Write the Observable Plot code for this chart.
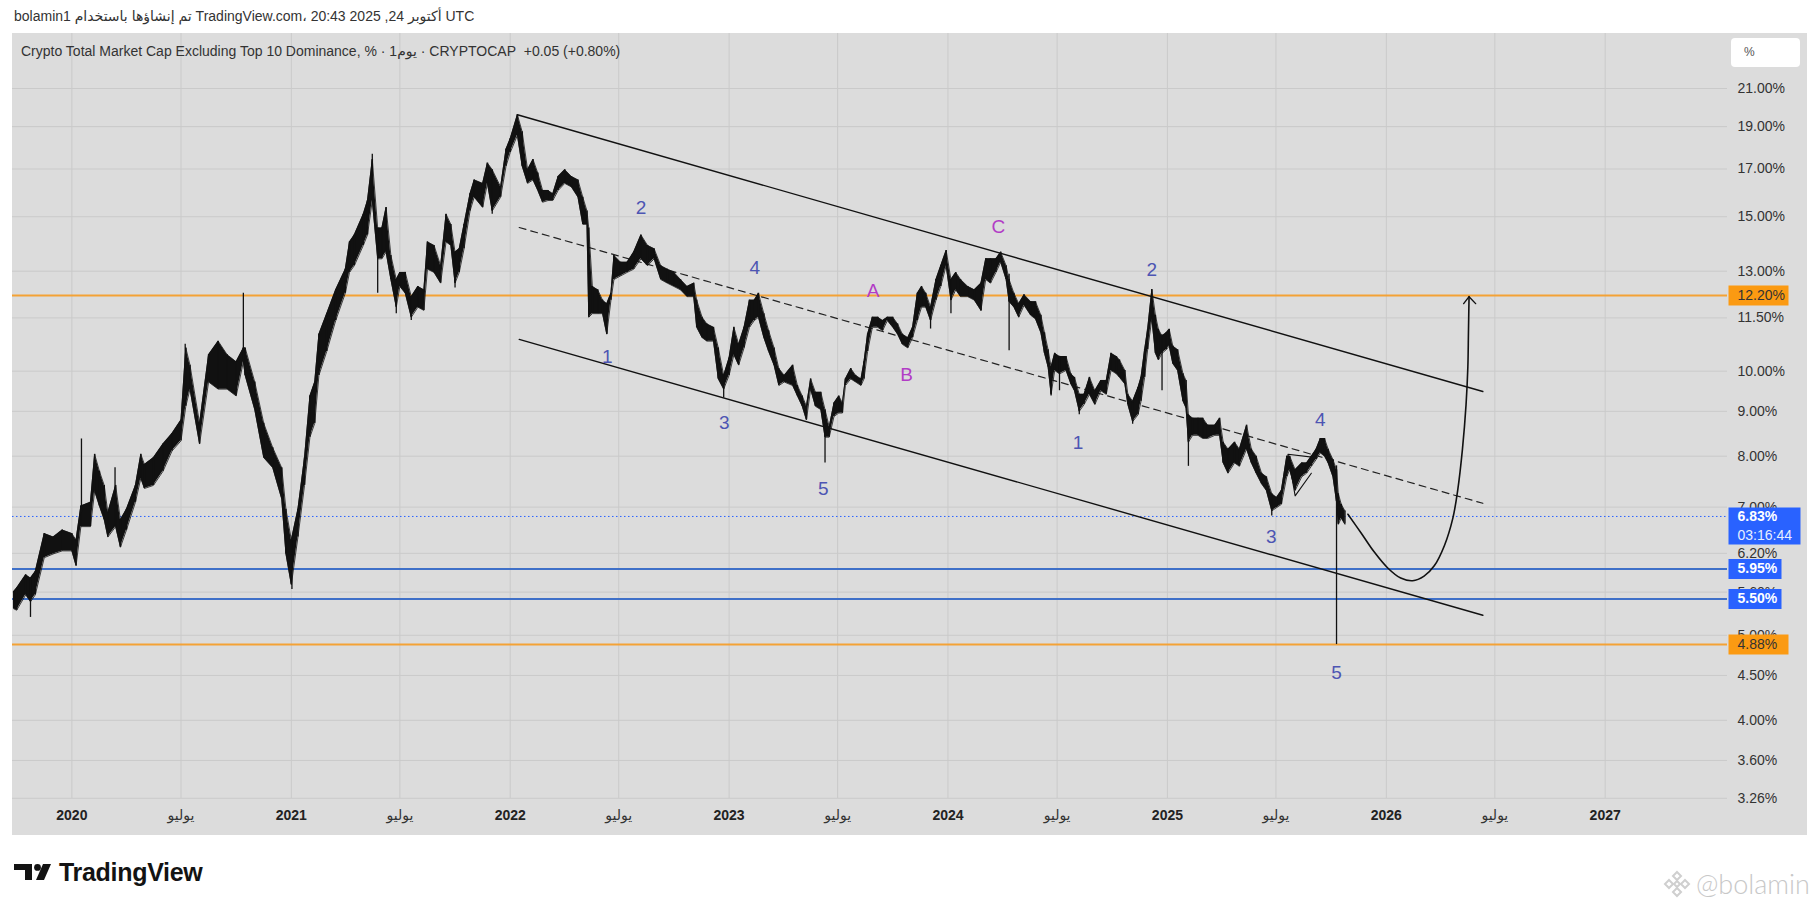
<!DOCTYPE html>
<html>
<head>
<meta charset="utf-8">
<script src="https://cdn.jsdelivr.net/npm/d3@7"></script>
<script src="https://cdn.jsdelivr.net/npm/@observablehq/plot@0.6"></script>
<style>
  html, body { margin: 0; padding: 0; background: #ffffff; }
  body { width: 1818px; height: 908px; overflow: hidden; position: relative;
         font-family: "Liberation Sans", "DejaVu Sans", sans-serif; }
  #hdr { position: absolute; left: 14px; top: 8px; font-size: 14px; color: #333; white-space: nowrap; }
  #panel { position: absolute; left: 12px; top: 33px; width: 1795px; height: 802px; background: #dcdcdc; }
  #legend { position: absolute; left: 9px; top: 10px; font-size: 14px; color: #333; white-space: nowrap; }
  #pct { position: absolute; left: 1719px; top: 5px; width: 69px; height: 29px; background: #fff;
         border-radius: 4px; font-size: 12px; color: #555; line-height: 29px; text-indent: 13px; }
  #logo { position: absolute; left: 14px; top: 857px; height: 30px; display: flex; align-items: center; }
  #logo span { font-size: 25px; font-weight: bold; color: #131313; margin-left: 8px; letter-spacing: -0.3px; }
  #wm { position: absolute; left: 1662px; top: 867px; display: flex; align-items: center; color: #c8c8c8; }
  #wm span { font-family: "Lato", "Open Sans", sans-serif; font-weight: 300; font-size: 27px; margin-left: 4px; }
</style>
</head>
<body>
<div id="hdr">bolamin1 تم إنشاؤها باستخدام TradingView.com، أكتوبر 24, 2025 20:43 UTC</div>
<div id="panel">
  <div id="chart"></div>
  <div id="legend">Crypto Total Market Cap Excluding Top 10 Dominance, % · 1يوم · CRYPTOCAP&nbsp;&nbsp;+0.05 (+0.80%)</div>
  <div id="pct">%</div>
</div>
<div id="logo">
  <svg width="37" height="16" viewBox="0 0 37 16">
    <path d="M0 0 H18 V16 H11 V6 H0 Z" fill="#131313"/>
    <circle cx="23.5" cy="3.4" r="3.4" fill="#131313"/>
    <path d="M29 0 H37 L30 16 H22 Z" fill="#131313"/>
  </svg>
  <span>TradingView</span>
</div>
<div id="wm">
  <svg width="30" height="30" viewBox="0 0 30 30">
    <g fill="none" stroke="#cfcfcf" stroke-width="2">
      <path d="M15 3 L19 7 L15 11 L11 7 Z"/>
      <path d="M7 11 L11 15 L7 19 L3 15 Z"/>
      <path d="M23 11 L27 15 L23 19 L19 15 Z"/>
      <path d="M15 19 L19 23 L15 27 L11 23 Z"/>
      <path d="M15 12 L18 15 L15 18 L12 15 Z"/>
    </g>
  </svg>
  <span>@bolamin</span>
</div>
<script>
// ---------- price path (high / low band) ----------
const barDates = [
"2019-09-26","2019-10-01","2019-10-16","2019-10-24","2019-11-01","2019-11-16","2019-12-01","2019-12-16",
"2020-01-01","2020-01-08","2020-01-16","2020-02-01","2020-02-08","2020-02-16","2020-02-24","2020-03-01",
"2020-03-14","2020-03-22","2020-04-01","2020-04-16","2020-04-25","2020-05-01","2020-05-16","2020-06-01",
"2020-06-16","2020-07-01","2020-07-09","2020-07-16","2020-08-01","2020-08-16","2020-09-01","2020-09-16",
"2020-10-01","2020-10-13","2020-10-16","2020-11-01","2020-11-16","2020-12-01","2020-12-16","2020-12-23",
"2021-01-01","2021-01-12","2021-01-23","2021-02-01","2021-02-09","2021-02-16","2021-03-01","2021-03-16",
"2021-04-01","2021-04-08","2021-04-16","2021-05-01","2021-05-08","2021-05-16","2021-05-25","2021-06-01",
"2021-06-08","2021-06-16","2021-06-25","2021-07-01","2021-07-10","2021-07-20","2021-07-31","2021-08-10",
"2021-08-16","2021-08-27","2021-09-07","2021-09-16","2021-09-24","2021-10-01","2021-10-08","2021-10-16",
"2021-10-26","2021-11-02","2021-11-16","2021-11-24","2021-12-02","2021-12-16","2021-12-25","2022-01-01",
"2022-01-13","2022-01-21","2022-01-30","2022-02-08","2022-02-16","2022-02-24","2022-03-05","2022-03-13",
"2022-03-22","2022-04-02","2022-04-13","2022-04-24","2022-05-02","2022-05-09","2022-05-12","2022-05-18",
"2022-05-27","2022-06-04","2022-06-11","2022-06-18","2022-06-23","2022-07-04","2022-07-15","2022-07-26",
"2022-08-07","2022-08-18","2022-08-29","2022-09-09","2022-09-20","2022-10-01","2022-10-12","2022-10-23",
"2022-11-03","2022-11-08","2022-11-17","2022-11-25","2022-12-06","2022-12-14","2022-12-23","2023-01-01",
"2023-01-09","2023-01-17","2023-01-26","2023-02-04","2023-02-12","2023-02-19","2023-02-28","2023-03-08",
"2023-03-17","2023-03-25","2023-04-03","2023-04-17","2023-04-25","2023-05-03","2023-05-10","2023-05-17",
"2023-05-25","2023-06-03","2023-06-10","2023-06-17","2023-06-25","2023-07-03","2023-07-09","2023-07-14",
"2023-07-23","2023-07-31","2023-08-09","2023-08-14","2023-08-20","2023-08-28","2023-09-06","2023-09-14",
"2023-09-22","2023-10-01","2023-10-09","2023-10-17","2023-10-26","2023-11-03","2023-11-11","2023-11-18",
"2023-11-25","2023-12-03","2023-12-12","2023-12-20","2023-12-29","2024-01-06","2024-01-14","2024-01-22",
"2024-02-03","2024-02-14","2024-02-25","2024-03-04","2024-03-12","2024-03-21","2024-03-29","2024-04-07",
"2024-04-12","2024-04-20","2024-04-28","2024-05-07","2024-05-18","2024-05-26","2024-06-04","2024-06-10",
"2024-06-16","2024-06-21","2024-06-27","2024-07-05","2024-07-16","2024-07-24","2024-07-30","2024-08-07",
"2024-08-15","2024-08-24","2024-09-02","2024-09-12","2024-09-21","2024-09-29","2024-10-08","2024-10-13",
"2024-10-22","2024-10-27","2024-11-04","2024-11-13","2024-11-18","2024-11-24","2024-11-29","2024-12-06",
"2024-12-12","2024-12-17","2024-12-23","2024-12-30","2025-01-04","2025-01-10","2025-01-18","2025-01-27",
"2025-02-01","2025-02-05","2025-02-12","2025-02-21","2025-03-01","2025-03-09","2025-03-21","2025-03-29",
"2025-04-04","2025-04-12","2025-04-23","2025-05-01","2025-05-13","2025-05-21","2025-05-29","2025-06-07",
"2025-06-15","2025-06-24","2025-07-02","2025-07-10","2025-07-19","2025-07-24","2025-08-02","2025-08-13",
"2025-08-21","2025-08-29","2025-09-06","2025-09-13","2025-09-20","2025-09-26","2025-10-04","2025-10-10",
"2025-10-13","2025-10-18","2025-10-24"
];
const barHighs = [
5.61,5.66,5.86,5.81,5.91,6.53,6.47,6.59,
6.53,6.42,7.02,7.09,8.04,7.69,7.41,6.90,
7.41,6.77,6.96,7.41,8.04,7.83,7.97,8.26,
8.49,8.80,10.63,10.16,8.72,10.44,10.82,10.44,
10.25,10.63,10.63,9.72,8.72,8.18,7.76,6.96,
6.42,6.96,7.97,9.37,9.72,11.02,11.63,12.38,
13.07,14.04,14.30,15.10,15.65,17.43,14.56,14.56,
15.37,13.55,12.72,12.96,12.96,12.16,12.49,12.38,
14.04,13.91,13.19,15.10,14.70,13.67,13.79,14.70,
15.93,16.52,16.37,17.27,16.97,16.22,17.91,18.40,
19.60,18.74,16.97,17.43,16.82,16.07,16.07,15.93,
16.67,16.97,16.67,16.52,15.79,15.23,14.56,12.49,
12.38,12.05,11.94,12.27,13.55,13.31,13.31,13.67,
14.30,13.91,13.79,13.19,13.07,12.96,12.72,12.49,
12.60,12.05,11.52,11.32,11.22,10.63,9.89,10.35,
11.22,10.73,11.22,12.05,12.05,12.27,11.63,11.12,
10.63,10.07,9.89,10.16,9.63,9.37,9.12,9.80,
9.46,9.46,9.04,8.64,9.20,9.37,9.20,9.80,
10.07,9.89,9.80,10.25,11.02,11.52,11.52,11.42,
11.52,11.52,11.32,11.02,10.92,11.22,12.27,12.49,
12.27,11.83,12.72,13.19,13.73,12.72,12.96,12.72,
12.49,12.38,12.60,13.43,13.43,13.43,13.67,13.19,
12.72,12.27,11.94,12.22,12.00,12.00,11.58,11.06,
10.58,10.11,10.48,10.39,10.39,9.93,9.84,9.41,
9.41,9.84,9.50,9.76,9.76,10.48,10.39,10.30,
10.02,9.41,9.24,9.58,9.84,10.58,11.16,12.39,
11.58,11.16,10.97,11.06,11.16,10.68,10.58,9.93,
9.76,8.92,8.84,8.84,8.84,8.68,8.68,8.84,
8.30,8.15,8.30,8.15,8.68,8.15,8.00,7.65,
7.58,7.25,7.18,7.31,8.00,8.00,7.72,7.86,
7.86,8.00,8.15,8.38,8.38,8.15,7.93,7.72,
7.25,7.05,6.93
];
const barLows = [
5.36,5.34,5.56,5.46,5.56,6.13,6.19,6.24,
6.24,6.00,6.65,6.65,7.30,7.02,6.77,6.47,
6.65,6.30,6.59,7.09,7.55,7.35,7.41,7.69,
8.11,8.33,9.12,9.54,8.26,9.72,9.54,9.54,
9.37,10.25,9.89,9.04,7.97,7.76,7.15,6.19,
5.71,6.47,7.41,8.41,8.72,9.89,10.53,11.42,
12.27,12.96,13.19,13.91,14.30,15.65,13.43,13.43,
13.67,12.72,11.83,12.49,12.27,11.52,11.83,11.73,
13.07,12.96,12.60,14.04,13.91,12.60,12.96,13.79,
15.23,15.79,15.37,16.37,15.23,15.79,17.12,17.75,
18.57,17.12,16.37,16.52,16.07,15.58,15.65,15.65,
16.07,16.37,16.22,15.79,14.70,14.70,11.52,11.63,
11.63,11.63,11.02,12.05,12.72,12.84,12.96,13.07,
13.43,13.19,13.43,12.72,12.60,12.49,12.38,12.16,
12.16,11.22,10.92,10.82,10.82,9.80,9.54,9.89,
10.44,10.16,10.63,11.22,11.42,11.52,10.92,10.53,
10.16,9.63,9.72,9.63,9.37,9.12,8.80,9.54,
9.12,9.04,8.41,8.41,8.88,8.96,8.96,9.63,
9.80,9.72,9.63,9.80,10.53,11.22,11.22,11.12,
11.42,11.22,11.02,10.73,10.63,10.92,11.42,11.83,
11.83,11.42,12.05,12.49,13.19,12.05,12.38,12.16,
12.16,12.05,11.73,12.72,12.60,12.96,13.31,12.72,
12.00,11.83,11.52,11.89,11.58,11.47,11.06,10.48,
10.11,9.41,10.02,9.93,10.02,9.67,9.50,9.00,
9.16,9.41,9.16,9.50,9.41,10.02,9.93,9.84,
9.67,9.16,8.76,8.92,9.24,9.84,10.58,11.47,
10.48,10.30,10.48,10.58,10.68,10.20,10.02,9.24,
9.08,8.30,8.45,8.45,8.38,8.38,8.45,8.45,
7.86,7.65,7.86,7.79,8.15,7.86,7.65,7.44,
7.31,6.93,6.99,7.05,7.58,7.72,7.31,7.58,
7.65,7.79,7.93,8.07,8.00,7.86,7.58,7.10,
6.69,6.80,6.69
];

// long single-candle wicks
const wickDates = ["2019-10-24","2020-01-17","2020-03-13","2020-07-08","2020-10-13","2021-01-02","2021-05-16",
  "2021-05-25","2021-06-25","2021-07-20","2021-10-01","2021-12-02","2022-06-11","2022-12-23","2023-06-10",
  "2023-12-03","2024-01-06","2024-02-25","2024-04-12","2024-06-21","2024-07-05","2024-08-07","2024-11-04",
  "2024-12-23","2025-02-05","2025-06-24","2025-10-10"];
const wickHighs = [5.80,8.37,7.76,10.73,12.27,6.40,17.67,14.00,12.70,12.10,13.60,16.90,11.90,9.90,9.00,
  11.80,12.70,12.60,12.90,10.10,10.40,9.40,9.20,11.00,8.90,7.20,7.80];
const wickLows = [5.24,6.90,6.65,9.50,10.30,5.64,16.00,12.27,11.63,11.42,12.44,15.10,11.02,9.32,7.86,
  11.17,11.63,11.70,10.55,9.37,9.50,8.92,8.70,9.50,7.79,6.84,4.88];

// axes
const yTickValues = [21, 19, 17, 15, 13, 11.5, 10, 9, 8, 7, 6.2, 5.6, 5, 4.5, 4, 3.6, 3.26];
const yearTickDates = ["2020-01-01","2021-01-01","2022-01-01","2023-01-01","2024-01-01","2025-01-01","2026-01-01","2027-01-01"];
const yearTickLabels = ["2020","2021","2022","2023","2024","2025","2026","2027"];
const julyTickDates = ["2020-07-01","2021-07-01","2022-07-01","2023-07-01","2024-07-01","2025-07-01","2026-07-01"];
const julyLabel = "يوليو";
const xDomain = ["2019-09-24", "2027-07-24"];
const yDomain = [3.258, 24.26];

// horizontal levels
const orangeLevels = [12.2, 4.88];
const blueLevels = [5.95, 5.5];
const lastPrice = 6.83;
const lastCountdown = "03:16:44";

// channel drawn on the chart
const channelDates = ["2022-01-13", "2026-06-11"];
const channelUpper = [19.60, 9.48];
const channelMidDates = ["2022-01-16", "2026-06-11"];
const channelMid = [14.58, 7.07];
const channelLower = [10.87, 5.27];

// small wedge near wave 4
const wedgeDates = ["2025-09-06","2025-07-21","2025-08-02","2025-08-29"];
const wedgeValues = [7.97, 8.04, 7.21, 7.65];

// projected path + arrow head
const projDates = ["2025-10-29","2025-11-20","2025-12-12","2026-01-03","2026-01-25","2026-02-14","2026-03-05",
  "2026-03-22","2026-04-08","2026-04-22","2026-04-30","2026-05-08","2026-05-14","2026-05-17","2026-05-18","2026-05-19"];
const projValues = [6.87,6.54,6.22,5.97,5.81,5.77,5.84,6.00,6.33,6.80,7.31,8.15,9.16,10.11,11.07,12.16];
const arrowDates = ["2026-05-10","2026-05-19","2026-05-30"];
const arrowValues = [11.94, 12.16, 11.94];

// wave labels
const waveTexts  = ["1","2","3","4","5","A","B","C","1","2","3","4","5"];
const waveDates  = ["2022-06-12","2022-08-07","2022-12-24","2023-02-13","2023-06-07","2023-08-29","2023-10-24",
                    "2024-03-25","2024-08-05","2024-12-06","2025-06-23","2025-09-13","2025-10-10"];
const waveValues = [10.37,15.37,8.72,13.13,7.35,12.36,9.91,14.62,8.29,13.06,6.48,8.81,4.53];
const waveKinds  = ["n","n","n","n","n","l","l","l","n","n","n","n","n"];

// ---------- build tables ----------
const D = s => new Date(s + "T00:00:00Z");
const bars = barDates.map((d, i) => ({date: D(d), high: barHighs[i], low: barLows[i]}));
const wicks = wickDates.map((d, i) => ({date: D(d), high: wickHighs[i], low: wickLows[i]}));
const channel = [
  ...channelDates.map((d, i) => ({date: D(d), v: channelUpper[i], k: "u"})),
  ...channelMidDates.map((d, i) => ({date: D(d), v: channelLower[i], k: "l"}))
];
const mid = channelMidDates.map((d, i) => ({date: D(d), v: channelMid[i]}));
const wedge = wedgeDates.map((d, i) => ({date: D(d), v: wedgeValues[i]}));
const proj = projDates.map((d, i) => ({date: D(d), v: projValues[i]}));
const arrowHead = arrowDates.map((d, i) => ({date: D(d), v: arrowValues[i]}));
const waves = waveTexts.map((t, i) => ({t, date: D(waveDates[i]), v: waveValues[i], k: waveKinds[i]}));
const years = yearTickDates.map((d, i) => ({date: D(d), label: yearTickLabels[i]}));
const julys = julyTickDates.map(d => ({date: D(d), label: julyLabel}));
const allXTicks = [...years, ...julys];

const pct = v => v.toFixed(2) + "%";
const rectSymbol = (w, h, top) => ({ draw(ctx) { ctx.rect(1, top, w, h); } });

const GRID = "#cacaca";
const ORANGE = "#f4a235";
const BLUE_LINE = "#3f70c8";
const BLUE_BOX = "#2962ff";
const ORANGE_BOX = "#fb9a12";
const NUM_C = "#4d55b3";
const LET_C = "#b23cc6";

const chart = Plot.plot({
  width: 1795,
  height: 802,
  marginLeft: 0,
  marginRight: 80,
  marginTop: 0,
  marginBottom: 37,
  style: {background: "#dcdcdc", fontFamily: '"Liberation Sans","DejaVu Sans",sans-serif', color: "#333", overflow: "visible"},
  x: {type: "utc", domain: xDomain.map(D), axis: null},
  y: {type: "log", domain: yDomain, axis: null},
  marks: [
    // grid
    Plot.ruleX(allXTicks, {x: "date", stroke: GRID, strokeWidth: 1}),
    Plot.ruleY(yTickValues, {y: d => d, stroke: GRID, strokeWidth: 1}),
    // levels
    Plot.ruleY([lastPrice], {y: d => d, stroke: BLUE_BOX, strokeWidth: 1, strokeDasharray: "1.5,2.5"}),
    Plot.ruleY(orangeLevels, {y: d => d, stroke: ORANGE, strokeWidth: 2}),
    Plot.ruleY(blueLevels, {y: d => d, stroke: BLUE_LINE, strokeWidth: 2}),
    // channel
    Plot.line(channel, {x: "date", y: "v", z: "k", stroke: "#111", strokeWidth: 1.4}),
    Plot.line(mid, {x: "date", y: "v", stroke: "#222", strokeWidth: 1.2, strokeDasharray: "7,5"}),
    // price band
    Plot.areaY(bars, {x: "date", y1: "low", y2: "high", fill: "#111"}),
    Plot.ruleX(bars, {x: "date", y1: "low", y2: "high", stroke: "#111", strokeWidth: 1.5}),
    Plot.line(bars, {x: "date", y: "high", stroke: "#111", strokeWidth: 0.8}),
    Plot.line(bars, {x: "date", y: "low", stroke: "#111", strokeWidth: 0.8}),
    Plot.ruleX(wicks, {x: "date", y1: "low", y2: "high", stroke: "#111", strokeWidth: 1.3}),
    // drawings
    Plot.line(wedge, {x: "date", y: "v", stroke: "#111", strokeWidth: 1.1}),
    Plot.line(proj, {x: "date", y: "v", stroke: "#111", strokeWidth: 1.6, curve: "catmull-rom"}),
    Plot.line(arrowHead, {x: "date", y: "v", stroke: "#111", strokeWidth: 1.4}),
    // wave labels
    Plot.text(waves, {x: "date", y: "v", text: "t", fill: d => d.k === "n" ? NUM_C : LET_C, fontSize: 19}),
    // price axis labels
    Plot.text(yTickValues, {y: d => d, text: d => pct(d), frameAnchor: "right", dx: 10, textAnchor: "start", fontSize: 14, fill: "#333"}),
    // label boxes
    Plot.dot(orangeLevels, {y: d => d, frameAnchor: "right", symbol: rectSymbol(60, 20, -10), fill: ORANGE_BOX, stroke: "none"}),
    Plot.dot(blueLevels, {y: d => d, frameAnchor: "right", symbol: rectSymbol(53, 20, -10), fill: BLUE_BOX, stroke: "none"}),
    Plot.dot([lastPrice], {y: d => d, frameAnchor: "right", symbol: rectSymbol(72, 37, -9), fill: BLUE_BOX, stroke: "none"}),
    Plot.text(orangeLevels, {y: d => d, text: d => pct(d), frameAnchor: "right", dx: 10, textAnchor: "start", fontSize: 14, fill: "#333"}),
    Plot.text(blueLevels, {y: d => d, text: d => pct(d), frameAnchor: "right", dx: 10, textAnchor: "start", fontSize: 14, fill: "#fff", fontWeight: "bold"}),
    Plot.text([lastPrice], {y: d => d, text: d => pct(d), frameAnchor: "right", dx: 10, textAnchor: "start", fontSize: 14, fill: "#fff", fontWeight: "bold"}),
    Plot.text([lastPrice], {y: d => d, text: () => lastCountdown, frameAnchor: "right", dx: 10, dy: 19, textAnchor: "start", fontSize: 14, fill: "#e8eeff"}),
    // time axis labels
    Plot.text(years, {x: "date", text: "label", frameAnchor: "bottom", dy: 21, fontSize: 14, fontWeight: "bold", fill: "#222"}),
    Plot.text(julys, {x: "date", text: "label", frameAnchor: "bottom", dy: 21, fontSize: 14, fill: "#333"})
  ]
});
document.getElementById("chart").appendChild(chart);
</script>
</body>
</html>
